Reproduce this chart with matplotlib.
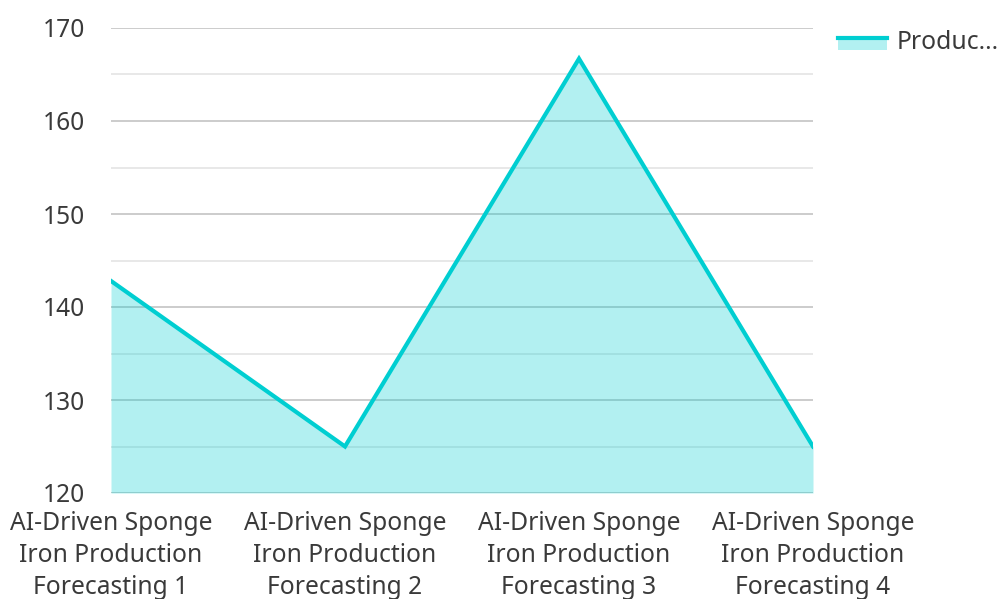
import matplotlib.pyplot as plt
from matplotlib.patches import Rectangle
from matplotlib.lines import Line2D
from matplotlib.legend_handler import HandlerBase

plt.rcParams['font.family'] = ['Noto Sans', 'DejaVu Sans']

categories = ['AI-Driven Sponge\nIron Production\nForecasting 1',
              'AI-Driven Sponge\nIron Production\nForecasting 2',
              'AI-Driven Sponge\nIron Production\nForecasting 3',
              'AI-Driven Sponge\nIron Production\nForecasting 4']
production = [142.8, 125.0, 166.7, 125.0]
series_name = 'Produc...'
y_ticks = [120, 130, 140, 150, 160, 170]

line_color = '#00CED1'
text_color = '#3a3a3a'
fs = 17.7


class AreaHandler(HandlerBase):
    # legend key: line on top, light fill underneath
    def create_artists(self, legend, orig, xd, yd, w, h, fontsize, trans):
        top = yd + h * 0.62
        rect = Rectangle((xd, yd - h * 0.05), w, top - (yd - h * 0.05),
                         facecolor=line_color, alpha=0.3, lw=0, transform=trans)
        ln = Line2D([xd, xd + w], [top, top], color=line_color, lw=3,
                    transform=trans)
        return [rect, ln]


fig = plt.figure(figsize=(9.99, 5.99), dpi=100)
ax = fig.add_axes([111 / 999, 1 - 493 / 599, (813 - 111) / 999, (493 - 28) / 599])

x = list(range(len(categories)))
ax.fill_between(x, production, 120, color=line_color, alpha=0.3, lw=0, zorder=3)
ax.plot(x, production, color=line_color, lw=3, zorder=4, solid_joinstyle='miter')

ax.set_xlim(0, len(categories) - 1)
ax.set_ylim(120, 170)

# minor grid every 5, major every 10
for v in range(120, 171, 5):
    if v % 10 == 0:
        ax.axhline(v, color='#c8c8c8', lw=1.3, zorder=1)
    else:
        ax.axhline(v, color='#e6e6e6', lw=1.3, zorder=1)

ax.set_yticks(y_ticks)
ax.set_yticklabels([str(t) for t in y_ticks])
ax.set_xticks(x)
ax.set_xticklabels(categories, linespacing=1.37)
ax.tick_params(axis='y', length=0, pad=18.7, labelsize=fs, labelcolor=text_color)
ax.tick_params(axis='x', length=0, pad=13, labelsize=fs, labelcolor=text_color)
for s in ax.spines.values():
    s.set_visible(False)

fig.legend([object()], [series_name], handler_map={object: AreaHandler()},
           loc='upper left', bbox_to_anchor=(838 / 999, 1 - 30 / 599),
           frameon=False, fontsize=fs, labelcolor=text_color,
           handlelength=2.0, handletextpad=0.4, borderaxespad=0, borderpad=0)

fig.savefig('out.png', dpi=100)
